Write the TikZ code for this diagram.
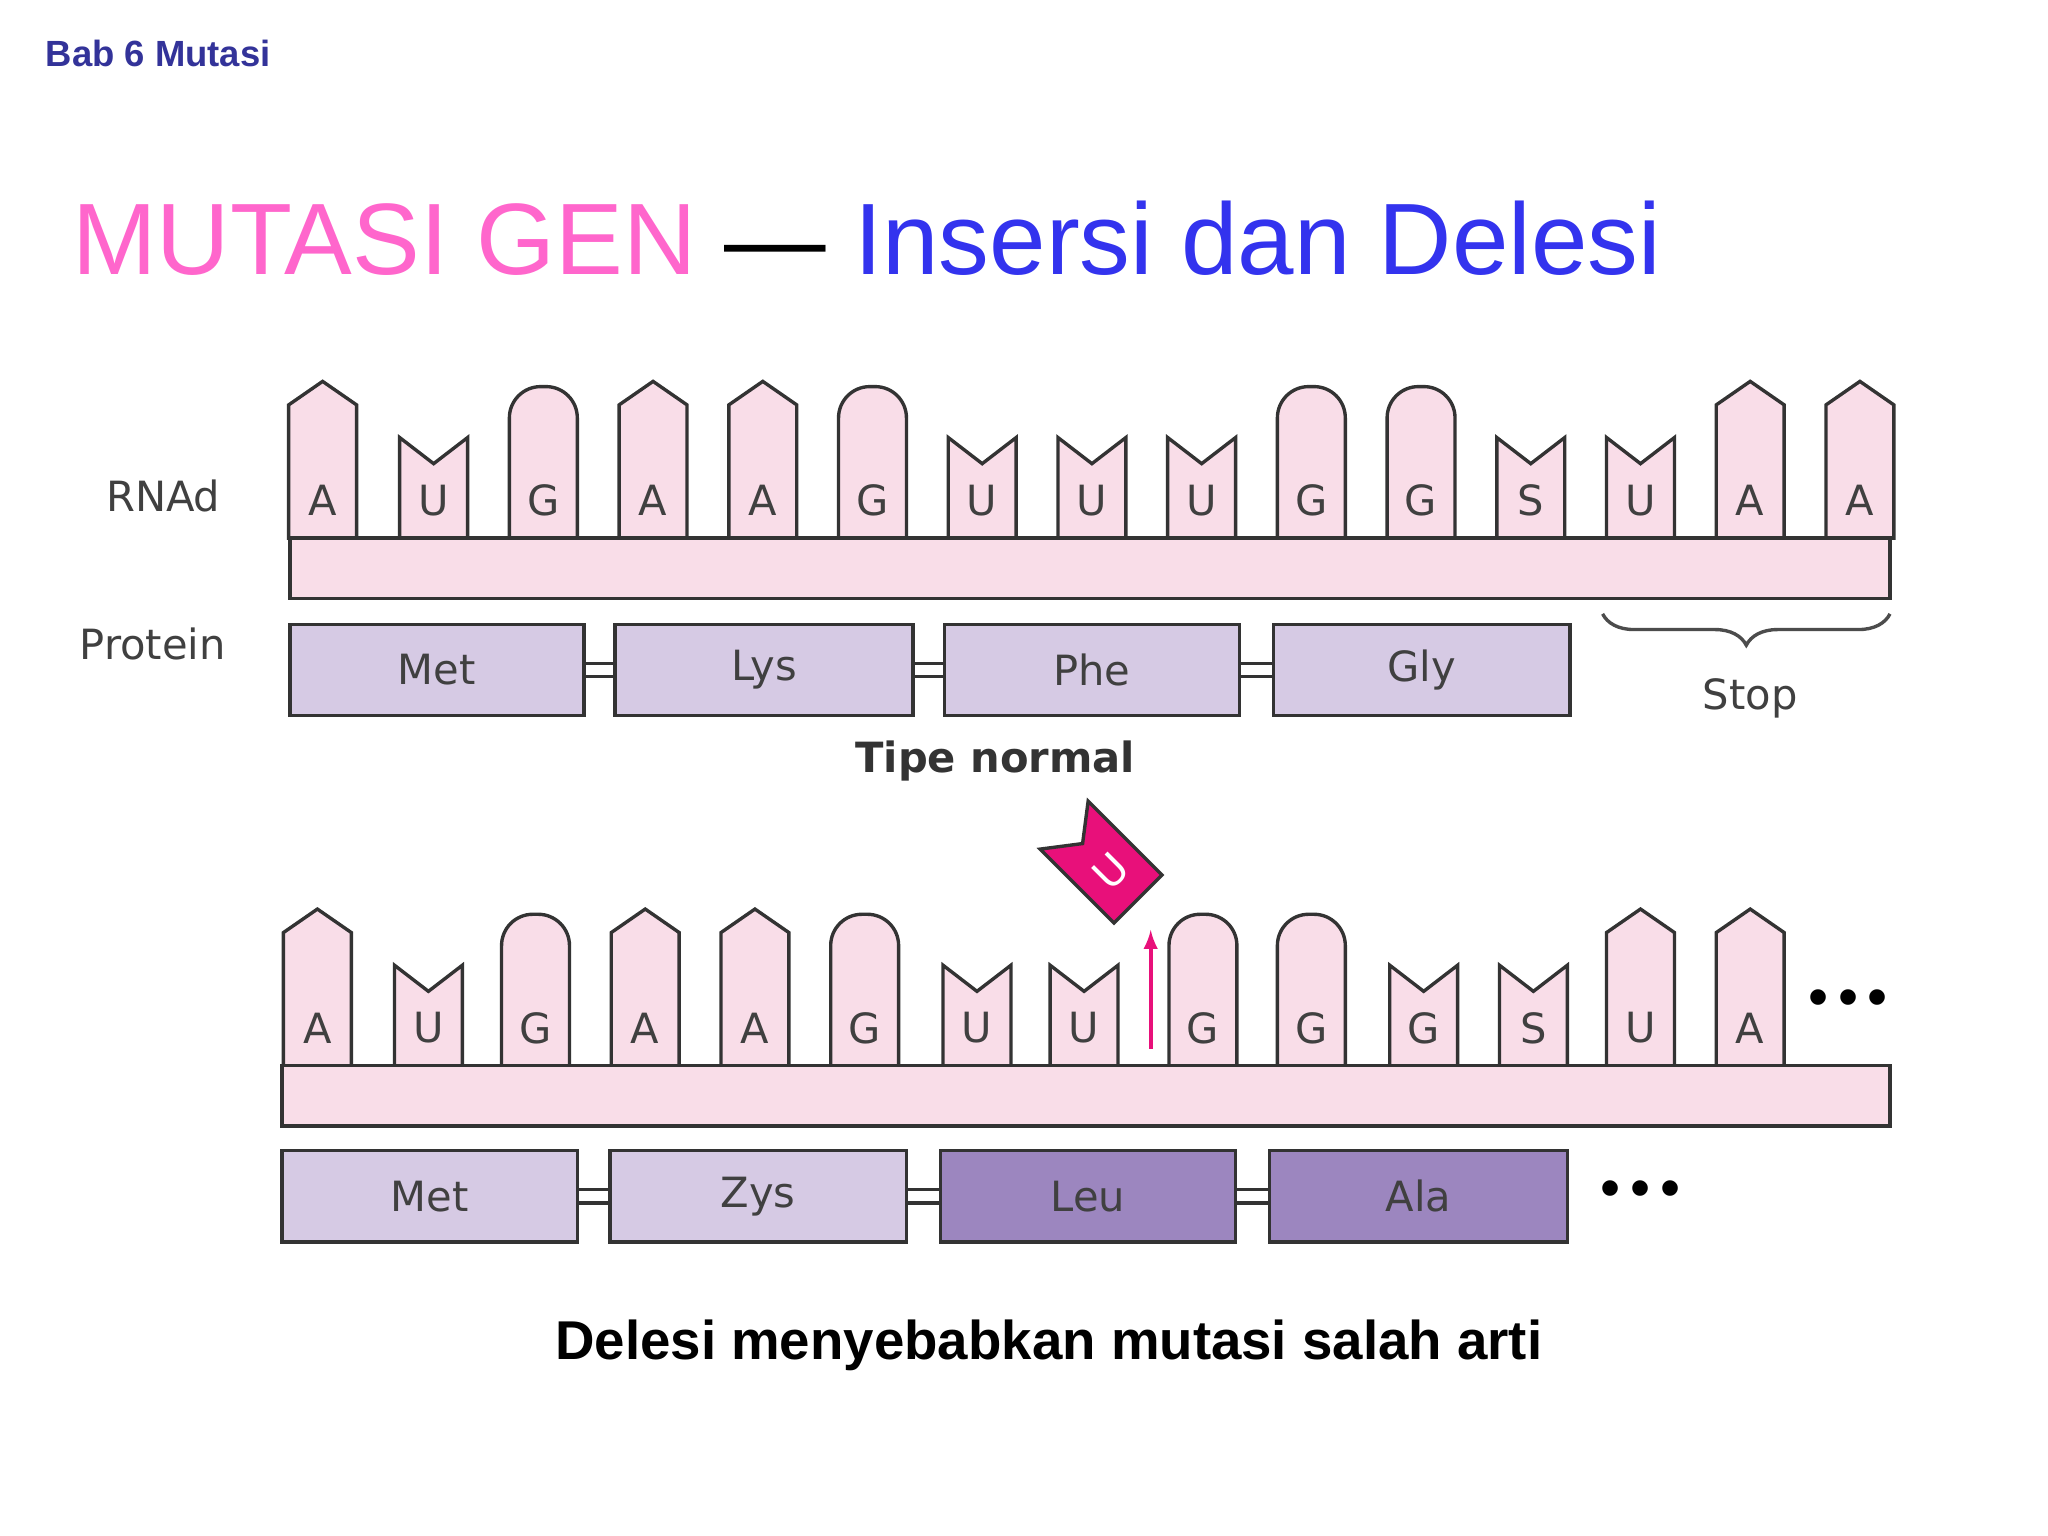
\documentclass[tikz,border=0pt]{standalone}
\usepackage{fontspec}
\setmainfont{Liberation Sans}
\newfontfamily\tilefont{DejaVu Sans}
\usetikzlibrary{decorations.pathreplacing}
\definecolor{tpink}{HTML}{F9DDE8}
\definecolor{lav}{HTML}{D6CAE4}
\definecolor{dlav}{HTML}{9C86BF}
\definecolor{ttl}{HTML}{FF66CC}
\definecolor{tblue}{HTML}{3333EE}
\definecolor{bab}{HTML}{333399}
\definecolor{mag}{HTML}{E8107A}
\tikzset{
  tileline/.style={draw=black!80, line width=1.3pt, fill=tpink},
  tlet/.style={font=\tilefont\fontsize{16}{18}\selectfont, text=black!75},
  pbox/.style={draw=black!80, line width=1.3pt, fill=lav, minimum height=35bp, font=\tilefont\fontsize{16}{18}\selectfont, text=black!75, inner sep=0pt},
  dbox/.style={pbox, fill=dlav},
  lbl/.style={font=\tilefont\fontsize{16}{18}\selectfont, text=black!75}
}
\newcommand\tileP[4]{% x, base, letter, name
  \draw[tileline] (#1-26,#2) -- (#1-26,#2-102) -- (#1,#2-120) -- (#1+26,#2-102) -- (#1+26,#2) -- cycle;
  \node[tlet] (#4) at (#1,#2-29) {#3};}
\newcommand\tileR[4]{%
  \draw[tileline, rounded corners=12] (#1-26,#2) -- (#1-26,#2-116) -- (#1+26,#2-116) -- (#1+26,#2) ;
  \draw[tileline, fill=none] (#1-26,#2) -- (#1+26,#2);
  \node[tlet] (#4) at (#1,#2-29) {#3};}
\newcommand\tileN[4]{%
  \draw[tileline] (#1-26,#2) -- (#1-26,#2-77) -- (#1,#2-57) -- (#1+26,#2-77) -- (#1+26,#2) -- cycle;
  \node[tlet] (#4) at (#1,#2-29) {#3};}
\begin{document}
\begin{tikzpicture}[x=0.5bp,y=-0.5bp]
\useasboundingbox[fill=white] (0,0) rectangle (1568,1176);
\node[anchor=west, font=\bfseries\fontsize{14}{16}\selectfont, text=bab] (bab) at (28,41) {Bab 6 Mutasi};
\node[anchor=base west, inner sep=0pt, font=\fontsize{39}{46}\selectfont] (title) at (55,210)
  {\textcolor{ttl}{MUTASI GEN} — \textcolor{tblue}{Insersi dan Delesi}};
% top row
\node[lbl] (rnad) at (125,380) {RNAd};
\node[lbl] (prot) at (117,493) {Protein};
\foreach \x/\t/\l [count=\i] in {247/P/A,332/N/U,416/R/G,500/P/A,584/P/A,668/R/G,752/N/U,836/N/U,920/N/U,1004/R/G,1088/R/G,1172/N/S,1256/N/U,1340/P/A,1424/P/A}{
  \csname tile\t\endcsname{\x}{412}{\l}{t\i}}
\draw[tileline] (222,412) rectangle (1447,458);
\node[pbox, minimum width=112.5bp] (met) at (334.5,513) {Met};
\node[pbox, minimum width=114bp] (lys) at (585,513) {Lys};
\node[pbox, minimum width=113bp] (phe) at (836,513) {Phe};
\node[pbox, minimum width=113.5bp] (gly) at (1088.5,513) {Gly};
\foreach \a/\b in {met/lys,lys/phe,phe/gly}{
  \draw[black!80, line width=1.2pt] ([yshift=-2.5bp]\a.east) -- ([yshift=-2.5bp]\b.west);
  \draw[black!80, line width=1.2pt] ([yshift=2.5bp]\a.east) -- ([yshift=2.5bp]\b.west);}
\draw[black!70, line width=1.3pt, decorate, decoration={brace, amplitude=12bp, mirror}] (1227,470) -- (1447,470);
\node[lbl] (stop) at (1340,535) {Stop};
\node[font=\tilefont\bfseries\fontsize{16}{18}\selectfont, text=black!80] (normal) at (762,583) {Tipe normal};
% mutant flag
\begin{scope}[shift={(843,660)}, rotate=45]
  \draw[draw=black!80, line width=1.3pt, fill=mag] (-26,40) -- (-26,-40) -- (0,-20) -- (26,-40) -- (26,40) -- cycle;
  \node[font=\tilefont\fontsize{16}{18}\selectfont, text=white, rotate=45] (flag) at (0,10) {U};
\end{scope}
\coordinate (ar0) at (881,803);
\coordinate (ar1) at (881,712);
\draw[-latex, mag, line width=1.5pt] (ar0) -- (ar1);
% bottom row
\foreach \x/\t/\l [count=\i] in {243/P/A,328/N/U,410/R/G,494/P/A,578/P/A,662/R/G,748/N/U,830/N/U,921/R/G,1004/R/G,1090/N/G,1174/N/S,1256/P/U,1340/P/A}{
  \csname tile\t\endcsname{\x}{816}{\l}{b\i}}
\draw[tileline] (216,816) rectangle (1447,862);
\node[font=\fontsize{22}{24}\selectfont] (dots1) at (1415,768) {\textbullet\,\textbullet\,\textbullet};
\node[pbox, minimum width=113bp] (met2) at (329,916) {Met};
\node[pbox, minimum width=113.5bp] (zys) at (580.5,916) {Zys};
\node[dbox, minimum width=113bp] (leu) at (833,916) {Leu};
\node[dbox, minimum width=114bp] (ala) at (1086,916) {Ala};
\foreach \a/\b in {met2/zys,zys/leu,leu/ala}{
  \draw[black!80, line width=1.2pt] ([yshift=-2.5bp]\a.east) -- ([yshift=-2.5bp]\b.west);
  \draw[black!80, line width=1.2pt] ([yshift=2.5bp]\a.east) -- ([yshift=2.5bp]\b.west);}
\node[font=\fontsize{22}{24}\selectfont] (dots2) at (1256,914) {\textbullet\,\textbullet\,\textbullet};
\node[font=\bfseries\fontsize{21}{24}\selectfont] (cap) at (803,1030) {Delesi menyebabkan mutasi salah arti};
\end{tikzpicture}
\end{document}
